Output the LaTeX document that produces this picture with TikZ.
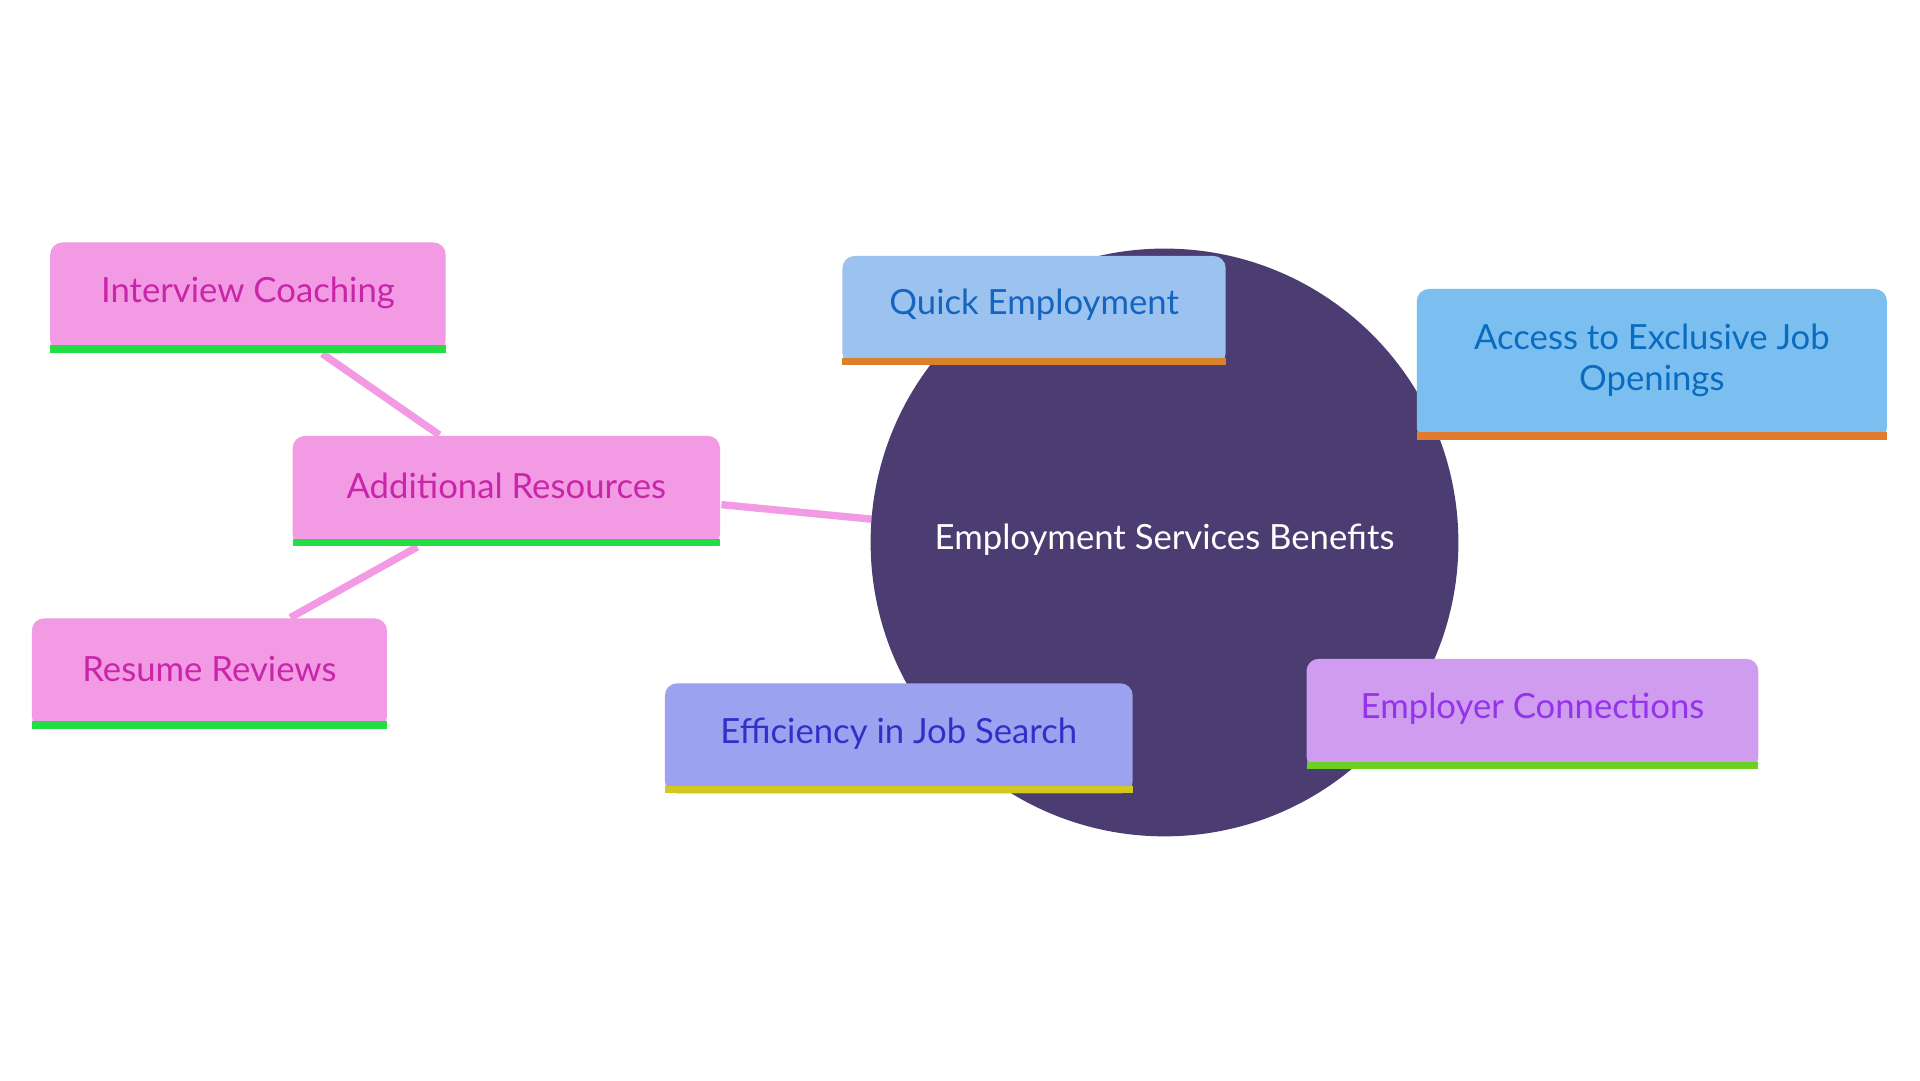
\documentclass[tikz,border=0pt]{standalone}
\usepackage{fontspec}
\setmainfont{Lato}
\begin{document}
\begin{tikzpicture}[x=0.6pt,y=-0.6pt,
 box/.style={rounded corners=6pt,draw=none},
 lbl/.style={font=\fontsize{17}{20}\selectfont,align=center},
 edge/.style={line width=3.6pt,color=pinkF}]
\definecolor{pinkF}{HTML}{F29AE3}
\definecolor{pinkT}{HTML}{C925A8}
\definecolor{green}{HTML}{22DD44}
\useasboundingbox (0,0) rectangle (1568,882);
\fill[white] (0,0) rectangle (1568,882);
% connectors
\coordinate (ce) at (712,424);
\node[inner sep=0] (ar) at (588,412) {};
\node[inner sep=0] (ic) at (262,288) {};
\node[inner sep=0] (arT) at (360,356) {};
\node[inner sep=0] (rr) at (236,505) {};
\node[inner sep=0] (arB) at (342,446) {};
\draw[edge] (ar) -- (ce);
\draw[edge] (ic) -- (arT);
\draw[edge] (rr) -- (arB);
% center
\fill[color={rgb,255:red,66;green,70;blue,94}] (951,443) circle (240);
\node[lbl,text=white] (c) at (951,441) {Employment Services Benefits};
% boxes: macro
\newcommand{\mybox}[8]{%
 \fill[box,fill=#5] (#1,#2) rectangle (#3,#4);
 \fill[fill=#6] (#1,#4-6) rectangle (#3,#4);
 \node[lbl,text=#7] (#8) at ({(#1+#3)/2},{(#2+#4)/2-3}) {};}
\definecolor{qeF}{HTML}{9CC3F0}\definecolor{qeB}{HTML}{D9822B}\definecolor{qeT}{HTML}{1565C0}
\definecolor{acF}{HTML}{7BBFF0}\definecolor{acB}{HTML}{E07B30}\definecolor{acT}{HTML}{0A6CC0}
\definecolor{emF}{HTML}{D09CF0}\definecolor{emB}{HTML}{6CD020}\definecolor{emT}{HTML}{9333EA}
\definecolor{efF}{HTML}{9BA2F0}\definecolor{efB}{HTML}{D4C820}\definecolor{efT}{HTML}{3030C8}
\fill[box,fill=qeF] (688,209) rectangle (1001,298); \fill[qeB] (688,292) rectangle (1001,298);
\node[lbl,text=qeT] (qe) at (844.5,249) {Quick Employment};
\fill[box,fill=acF] (1157,236) rectangle (1541,359); \fill[acB] (1157,353) rectangle (1541,359);
\node[lbl,text=acT] (ac) at (1349,294) {Access to Exclusive Job\\Openings};
\fill[box,fill=emF] (1067,538) rectangle (1436,628); \fill[emB] (1067,622) rectangle (1436,628);
\node[lbl,text=emT] (em) at (1251.5,579) {Employer Connections};
\fill[box,fill=efF] (543,558) rectangle (925,648); \fill[efB] (543,642) rectangle (925,648);
\node[lbl,text=efT] (ef) at (734,599) {Efficiency in Job Search};
\fill[box,fill=pinkF] (239,356) rectangle (588,446); \fill[green] (239,440) rectangle (588,446);
\node[lbl,text=pinkT] (adr) at (413.5,397) {Additional Resources};
\fill[box,fill=pinkF] (41,198) rectangle (364,288); \fill[green] (41,282) rectangle (364,288);
\node[lbl,text=pinkT] (ico) at (202.5,239) {Interview Coaching};
\fill[box,fill=pinkF] (26,505) rectangle (316,595); \fill[green] (26,589) rectangle (316,595);
\node[lbl,text=pinkT] (rre) at (171,546) {Resume Reviews};
\end{tikzpicture}
\end{document}
